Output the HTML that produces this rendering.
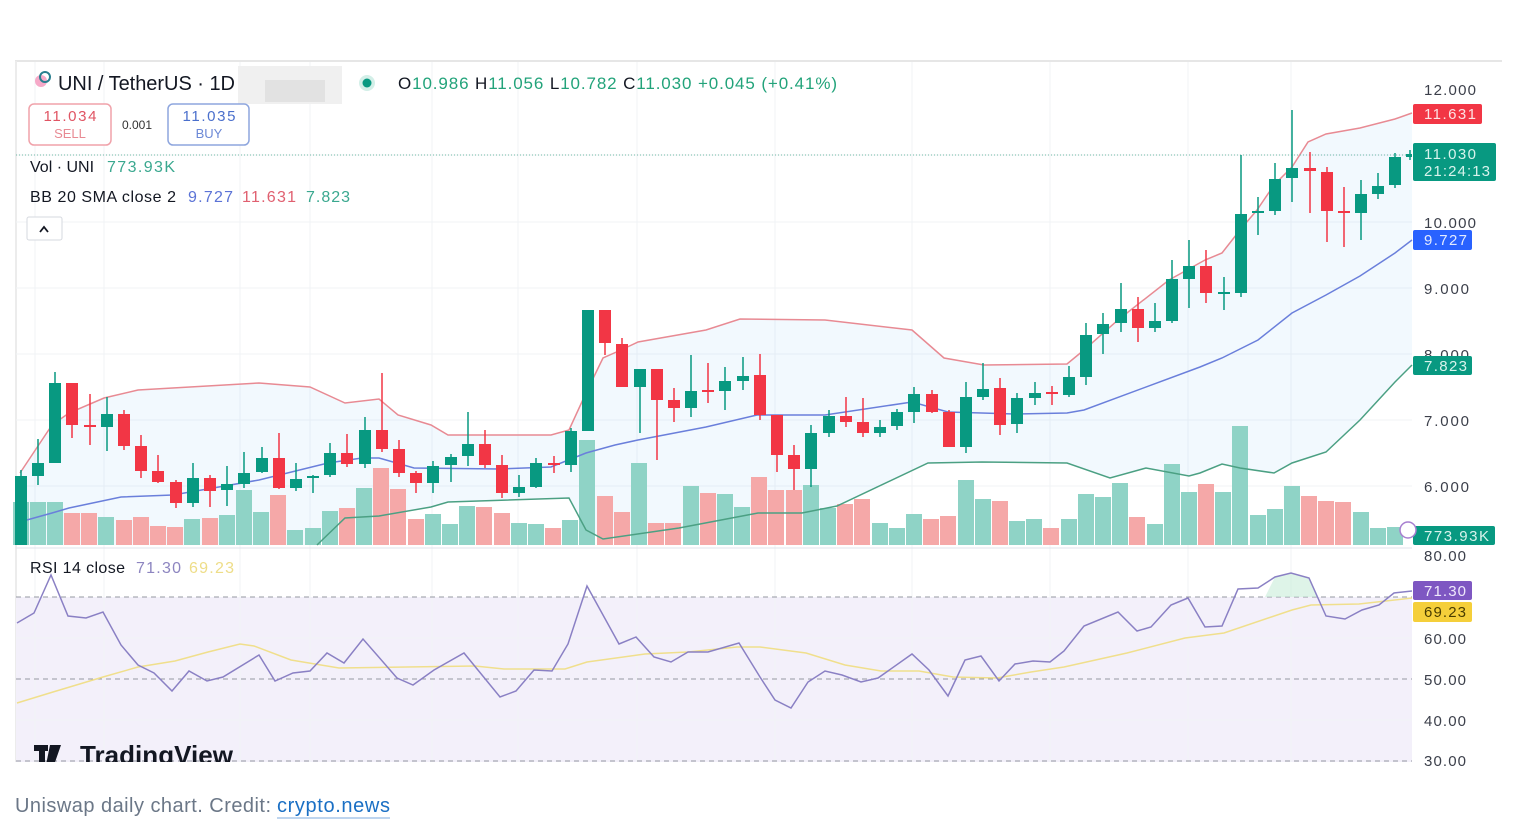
<!DOCTYPE html>
<html><head><meta charset="utf-8"><style>
html,body{margin:0;padding:0;background:#fff;}
svg{display:block;font-family:"Liberation Sans",sans-serif;}
</style></head><body>
<svg width="1518" height="836" viewBox="0 0 1518 836" xmlns="http://www.w3.org/2000/svg">
<rect x="0" y="0" width="1518" height="836" fill="#fff"/>
<rect x="15" y="60" width="1487" height="702" fill="#fff"/>
<line x1="15" y1="61" x2="1502" y2="61" stroke="#e6e6e6" stroke-width="2"/>
<line x1="16" y1="61" x2="16" y2="762" stroke="#ececec" stroke-width="2"/>
<rect x="16" y="597" width="1396" height="165" fill="#f3f0fa"/>
<g stroke="#f1f3f6" stroke-width="1">
<line x1="16" y1="155" x2="1412" y2="155"/><line x1="16" y1="222" x2="1412" y2="222"/><line x1="16" y1="288" x2="1412" y2="288"/>
<line x1="16" y1="354" x2="1412" y2="354"/><line x1="16" y1="420" x2="1412" y2="420"/><line x1="16" y1="486" x2="1412" y2="486"/>
<line x1="16" y1="638" x2="1412" y2="638"/><line x1="16" y1="720" x2="1412" y2="720"/>
<line x1="35" y1="62" x2="35" y2="762"/><line x1="104" y1="62" x2="104" y2="762"/><line x1="240" y1="62" x2="240" y2="762"/>
<line x1="310" y1="62" x2="310" y2="762"/><line x1="432" y1="62" x2="432" y2="762"/><line x1="518" y1="62" x2="518" y2="762"/>
<line x1="637" y1="62" x2="637" y2="762"/><line x1="775" y1="62" x2="775" y2="762"/><line x1="912" y1="62" x2="912" y2="762"/>
<line x1="1050" y1="62" x2="1050" y2="762"/><line x1="1188" y1="62" x2="1188" y2="762"/><line x1="1291" y1="62" x2="1291" y2="762"/>
</g>
<polygon fill="#2196f3" fill-opacity="0.06" points="20,473 52,425 69,413 104,398 138,390 190,387 259,383 310,387 345,403 379,399 398,415 431,425 448,435 551,435 569,430 586,393 603,358 621,350 638,342 706,330 740,319 825,320 912,330 944,358 984,365 1067,364 1084,350 1118,320 1169,280 1205,260 1222,253 1240,230 1257,210 1274,185 1292,167 1308,142 1326,134 1360,128 1395,119 1412,113 1412,365 1395,382 1360,420 1326,452 1292,463 1274,473 1240,468 1222,464 1200,473 1189,476 1146,468 1110,478 1067,463 982,462 928,463 837,506 802,513 758,513 679,528 600,538 586,530 569,498 448,502 431,507 379,516 345,518 317,545 20,545"/>
<g fill="#8fd3c6">
<rect x="13" y="502" width="16" height="43"/><rect x="30" y="502" width="16" height="43"/><rect x="47" y="502" width="16" height="43"/>
<rect x="98" y="517" width="16" height="28"/><rect x="184" y="519" width="16" height="26"/><rect x="219" y="515" width="16" height="30"/>
<rect x="236" y="490" width="16" height="55"/><rect x="253" y="512" width="16" height="33"/><rect x="287" y="530" width="16" height="15"/>
<rect x="305" y="528" width="16" height="17"/><rect x="322" y="511" width="16" height="34"/><rect x="356" y="488" width="16" height="57"/>
<rect x="425" y="514" width="16" height="31"/><rect x="442" y="524" width="16" height="21"/><rect x="459" y="506" width="16" height="39"/>
<rect x="511" y="523" width="16" height="22"/><rect x="528" y="524" width="16" height="21"/><rect x="562" y="520" width="16" height="25"/>
<rect x="579" y="440" width="16" height="105"/><rect x="631" y="463" width="16" height="82"/><rect x="683" y="486" width="16" height="59"/>
<rect x="717" y="494" width="16" height="51"/><rect x="734" y="507" width="16" height="38"/><rect x="803" y="485" width="16" height="60"/>
<rect x="820" y="508" width="16" height="37"/><rect x="872" y="523" width="16" height="22"/><rect x="889" y="528" width="16" height="17"/>
<rect x="906" y="514" width="16" height="31"/><rect x="958" y="480" width="16" height="65"/><rect x="975" y="499" width="16" height="46"/>
<rect x="1009" y="521" width="16" height="24"/><rect x="1026" y="519" width="16" height="26"/><rect x="1061" y="519" width="16" height="26"/>
<rect x="1078" y="494" width="16" height="51"/><rect x="1095" y="497" width="16" height="48"/><rect x="1112" y="483" width="16" height="62"/>
<rect x="1147" y="524" width="16" height="21"/><rect x="1164" y="464" width="16" height="81"/><rect x="1181" y="492" width="16" height="53"/>
<rect x="1215" y="492" width="16" height="53"/><rect x="1232" y="426" width="16" height="119"/><rect x="1250" y="515" width="16" height="30"/>
<rect x="1267" y="509" width="16" height="36"/><rect x="1284" y="486" width="16" height="59"/><rect x="1353" y="512" width="16" height="33"/>
<rect x="1370" y="528" width="16" height="17"/><rect x="1387" y="527" width="16" height="18"/>
</g>
<g fill="#f5a8a8">
<rect x="64" y="513" width="16" height="32"/><rect x="81" y="513" width="16" height="32"/><rect x="116" y="520" width="16" height="25"/>
<rect x="133" y="517" width="16" height="28"/><rect x="150" y="526" width="16" height="19"/><rect x="167" y="527" width="16" height="18"/>
<rect x="202" y="518" width="16" height="27"/><rect x="270" y="495" width="16" height="50"/><rect x="339" y="508" width="16" height="37"/>
<rect x="373" y="468" width="16" height="77"/><rect x="390" y="489" width="16" height="56"/><rect x="408" y="519" width="16" height="26"/>
<rect x="476" y="507" width="16" height="38"/><rect x="494" y="513" width="16" height="32"/><rect x="545" y="528" width="16" height="17"/>
<rect x="597" y="496" width="16" height="49"/><rect x="614" y="512" width="16" height="33"/><rect x="648" y="523" width="16" height="22"/>
<rect x="665" y="523" width="16" height="22"/><rect x="700" y="493" width="16" height="52"/><rect x="751" y="477" width="16" height="68"/>
<rect x="768" y="490" width="16" height="55"/><rect x="786" y="490" width="16" height="55"/><rect x="837" y="504" width="16" height="41"/>
<rect x="854" y="499" width="16" height="46"/><rect x="923" y="519" width="16" height="26"/><rect x="940" y="516" width="16" height="29"/>
<rect x="992" y="501" width="16" height="44"/><rect x="1043" y="528" width="16" height="17"/><rect x="1129" y="517" width="16" height="28"/>
<rect x="1198" y="484" width="16" height="61"/><rect x="1301" y="496" width="16" height="49"/><rect x="1318" y="501" width="16" height="44"/>
<rect x="1335" y="502" width="16" height="43"/>
</g>
<polyline fill="none" stroke="#e88a93" stroke-width="1.5" points="20,473 52,425 69,413 104,398 138,390 190,387 259,383 310,387 345,403 379,399 398,415 431,425 448,435 551,435 569,430 586,393 603,358 621,350 638,342 706,330 740,319 825,320 912,330 944,358 984,365 1067,364 1084,350 1118,320 1169,280 1205,260 1222,253 1240,230 1257,210 1274,185 1292,167 1308,142 1326,134 1360,128 1395,119 1412,113"/>
<polyline fill="none" stroke="#6a7fdb" stroke-width="1.5" points="16,523 52,513 69,508 121,497 173,495 259,480 328,463 362,458 379,458 414,468 500,469 551,467 586,453 615,445 638,440 706,427 757,415 825,415 912,402 948,412 1015,414 1067,413 1084,410 1200,367 1222,358 1258,340 1292,313 1326,295 1360,276 1395,253 1412,240"/>
<polyline fill="none" stroke="#4ba083" stroke-width="1.5" points="317,545 345,518 379,516 431,507 448,502 569,498 586,530 603,539 679,528 758,513 802,513 837,506 928,463 982,462 1067,463 1110,478 1146,468 1189,476 1200,473 1222,464 1240,468 1274,473 1292,463 1326,452 1360,420 1395,382 1412,365"/>
<line x1="16" y1="155" x2="1412" y2="155" stroke="#6fb8a6" stroke-width="1" stroke-dasharray="1,2"/>
<g stroke="#089981" stroke-width="1.5">
<path d="M21 470V545M38 439V485M55 372V463M107 397V451M193 463V507M227 466V506M244 452V488M262 447V473M296 463V491M313 475V493M330 443V477M365 417V468M433 461V493M451 454V482M468 412V466M519 475V497M536 458V488M571 428V472M588 310V431M640 369V433M691 355V417M725 367V410M743 357V390M811 425V487M829 410V437M880 420V437M897 409V430M914 387V423M966 382V453M983 363V400M1017 393V433M1035 382V405M1069 366V397M1086 323V385M1103 313V354M1121 283V332M1155 303V332M1172 260V323M1189 240V308M1224 277V310M1241 155V297M1258 197V235M1275 163V215M1292 110V202M1361 180V240M1378 173V199M1395 153V188M1410 150V160"/>
</g>
<g fill="#089981">
<rect x="15" y="476" width="12" height="69"/><rect x="32" y="463" width="12" height="13"/><rect x="49" y="383" width="12" height="80"/>
<rect x="101" y="414" width="12" height="13"/><rect x="187" y="478" width="12" height="25"/><rect x="221" y="484" width="12" height="6"/>
<rect x="238" y="473" width="12" height="11"/><rect x="256" y="458" width="12" height="14"/><rect x="290" y="479" width="12" height="9"/>
<rect x="307" y="476" width="12" height="2"/><rect x="324" y="453" width="12" height="22"/><rect x="359" y="430" width="12" height="34"/>
<rect x="427" y="466" width="12" height="17"/><rect x="445" y="457" width="12" height="8"/><rect x="462" y="444" width="12" height="12"/>
<rect x="513" y="487" width="12" height="6"/><rect x="530" y="463" width="12" height="24"/><rect x="565" y="431" width="12" height="34"/>
<rect x="582" y="310" width="12" height="121"/><rect x="634" y="369" width="12" height="18"/><rect x="685" y="391" width="12" height="17"/>
<rect x="719" y="381" width="12" height="10"/><rect x="737" y="376" width="12" height="5"/><rect x="805" y="433" width="12" height="36"/>
<rect x="823" y="416" width="12" height="17"/><rect x="874" y="427" width="12" height="6"/><rect x="891" y="412" width="12" height="14"/>
<rect x="908" y="394" width="12" height="18"/><rect x="960" y="397" width="12" height="50"/><rect x="977" y="389" width="12" height="8"/>
<rect x="1011" y="398" width="12" height="26"/><rect x="1029" y="393" width="12" height="5"/><rect x="1063" y="377" width="12" height="18"/>
<rect x="1080" y="335" width="12" height="42"/><rect x="1097" y="324" width="12" height="10"/><rect x="1115" y="309" width="12" height="14"/>
<rect x="1149" y="321" width="12" height="7"/><rect x="1166" y="279" width="12" height="42"/><rect x="1183" y="266" width="12" height="13"/>
<rect x="1218" y="292" width="12" height="2"/><rect x="1235" y="214" width="12" height="79"/><rect x="1252" y="211" width="12" height="2"/>
<rect x="1269" y="179" width="12" height="32"/><rect x="1286" y="168" width="12" height="10"/><rect x="1355" y="194" width="12" height="19"/>
<rect x="1372" y="186" width="12" height="8"/><rect x="1389" y="157" width="12" height="28"/><rect x="1406" y="154" width="6" height="3"/>
</g>
<g stroke="#f23645" stroke-width="1.5">
<path d="M72 383V438M90 394V445M124 410V450M141 435V478M158 455V483M176 480V508M210 475V507M279 433V489M347 434V467M382 373V452M399 440V477M416 471V493M485 430V468M502 455V498M554 456V473M605 310V355M622 338V387M657 369V460M674 388V422M708 363V403M760 354V420M777 415V472M794 445V490M846 397V427M863 398V437M932 390V413M949 410V447M1000 378V435M1052 386V405M1138 297V342M1206 250V303M1310 152V213M1327 167V242M1344 187V247"/>
</g>
<g fill="#f23645">
<rect x="66" y="383" width="12" height="42"/><rect x="84" y="425" width="12" height="2"/><rect x="118" y="414" width="12" height="32"/>
<rect x="135" y="446" width="12" height="25"/><rect x="152" y="471" width="12" height="11"/><rect x="170" y="482" width="12" height="21"/>
<rect x="204" y="478" width="12" height="13"/><rect x="273" y="458" width="12" height="30"/><rect x="341" y="453" width="12" height="11"/>
<rect x="376" y="430" width="12" height="19"/><rect x="393" y="449" width="12" height="24"/><rect x="410" y="473" width="12" height="10"/>
<rect x="479" y="444" width="12" height="21"/><rect x="496" y="465" width="12" height="28"/><rect x="548" y="463" width="12" height="2"/>
<rect x="599" y="310" width="12" height="33"/><rect x="616" y="344" width="12" height="43"/><rect x="651" y="369" width="12" height="31"/>
<rect x="668" y="400" width="12" height="8"/><rect x="702" y="390" width="12" height="2"/><rect x="754" y="375" width="12" height="40"/>
<rect x="771" y="415" width="12" height="40"/><rect x="788" y="455" width="12" height="14"/><rect x="840" y="416" width="12" height="6"/>
<rect x="857" y="422" width="12" height="11"/><rect x="926" y="394" width="12" height="18"/><rect x="943" y="412" width="12" height="35"/>
<rect x="994" y="388" width="12" height="37"/><rect x="1046" y="392" width="12" height="2"/><rect x="1132" y="309" width="12" height="19"/>
<rect x="1200" y="266" width="12" height="27"/><rect x="1304" y="168" width="12" height="3"/><rect x="1321" y="172" width="12" height="39"/>
<rect x="1338" y="211" width="12" height="2"/>
</g>
<line x1="16" y1="548" x2="1412" y2="548" stroke="#e0e3eb" stroke-width="1"/>
<g stroke="#9598a1" stroke-width="1" stroke-dasharray="5,4">
<line x1="16" y1="597" x2="1412" y2="597"/><line x1="16" y1="679" x2="1412" y2="679"/><line x1="16" y1="761" x2="1412" y2="761"/>
</g>
<polygon fill="#c8ecd9" fill-opacity="0.6" points="1265,597 1275,577 1291,573 1309,578 1318,597"/>
<polyline fill="none" stroke="#f0df8c" stroke-width="1.5" points="17,703 53,692 103,677 138,667 175,661 208,652 240,644 254,646 291,660 339,668 475,666 504,669 565,669 587,662 645,654 688,652 737,647 760,647 806,653 845,665 881,671 919,671 953,677 997,678 1031,672 1064,667 1127,653 1185,638 1224,633 1292,610 1311,605 1359,604 1412,598"/>
<polyline fill="none" stroke="#8a80c4" stroke-width="1.5" points="17,623 34,613 51,575 68,616 86,618 103,612 121,645 138,665 154,673 172,691 189,671 207,681 223,677 259,655 275,681 293,673 310,671 327,653 344,663 363,639 397,678 413,685 434,670 464,653 500,697 516,691 534,670 552,671 568,644 587,586 619,644 636,637 654,657 671,662 688,652 708,652 739,643 760,677 775,700 791,708 808,682 825,671 842,675 861,682 878,678 912,654 929,670 948,696 965,660 981,656 999,681 1015,664 1033,661 1050,662 1064,651 1084,626 1118,612 1137,631 1151,627 1171,605 1188,598 1205,627 1222,626 1238,589 1258,588 1275,577 1291,573 1309,578 1326,616 1345,619 1362,610 1379,605 1394,593 1412,591"/>
<rect x="1413" y="62" width="89" height="700" fill="#fff"/>
<g font-size="15" fill="#3b3f4a">
<text x="1424" y="95" textLength="52">12.000</text><text x="1424" y="228" textLength="52">10.000</text><text x="1424" y="294" textLength="45">9.000</text>
<text x="1424" y="360" textLength="45">8.000</text><text x="1424" y="426" textLength="45">7.000</text><text x="1424" y="492" textLength="45">6.000</text>
<text x="1424" y="561" textLength="42">80.00</text><text x="1424" y="644" textLength="42">60.00</text><text x="1424" y="685" textLength="42">50.00</text>
<text x="1424" y="726" textLength="42">40.00</text><text x="1424" y="766" textLength="42">30.00</text>
</g>
<rect x="1413" y="104" width="69" height="20" rx="2" fill="#f23645"/><text x="1424" y="119" font-size="15" fill="#fde2e4" textLength="52">11.631</text>
<rect x="1413" y="143" width="83" height="38" rx="2" fill="#089981"/><text x="1424" y="159" font-size="15" fill="#d8f3ec" textLength="52">11.030</text><text x="1424" y="176" font-size="15" fill="#d8f3ec" textLength="66">21:24:13</text>
<rect x="1413" y="230" width="59" height="20" rx="2" fill="#2962ff"/><text x="1424" y="245" font-size="15" fill="#e3eaff" textLength="43">9.727</text>
<rect x="1413" y="356" width="59" height="19" rx="2" fill="#089981"/><text x="1424" y="371" font-size="15" fill="#d8f3ec" textLength="43">7.823</text>
<rect x="1413" y="526" width="82" height="19" rx="2" fill="#089981"/><text x="1424" y="541" font-size="15" fill="#d8f3ec" textLength="65">773.93K</text>
<rect x="1413" y="581" width="59" height="19" rx="2" fill="#7e57c2"/><text x="1424" y="596" font-size="15" fill="#efe9fb" textLength="42">71.30</text>
<rect x="1413" y="602" width="59" height="20" rx="2" fill="#f5cf3a"/><text x="1424" y="617" font-size="15" fill="#4a3d00" textLength="42">69.23</text>
<circle cx="1408" cy="530" r="8" fill="#fff" stroke="#a77fd0" stroke-width="1.5"/>
<circle cx="41" cy="81" r="6" fill="#f6a9c8"/><circle cx="45" cy="77" r="5" fill="none" stroke="#2a7f8f" stroke-width="2"/>
<text x="58" y="90" font-size="20" fill="#131722" textLength="177">UNI / TetherUS · 1D</text>
<rect x="238" y="66" width="104" height="38" fill="#f0f0f0"/><rect x="265" y="80" width="60" height="22" fill="#e2e2e2"/>
<circle cx="367" cy="83" r="8" fill="#d3efe8"/><circle cx="367" cy="83" r="4.5" fill="#089981"/>
<text x="398" y="89" font-size="17" fill="#22a37a" textLength="439"><tspan fill="#131722">O</tspan>10.986 <tspan fill="#131722">H</tspan>11.056 <tspan fill="#131722">L</tspan>10.782 <tspan fill="#131722">C</tspan>11.030 +0.045 (+0.41%)</text>
<rect x="29" y="104" width="82" height="41" rx="5" fill="#fff" stroke="#f0a2aa" stroke-width="1.5"/>
<text x="70" y="121" font-size="15" fill="#e05463" text-anchor="middle" textLength="53">11.034</text><text x="70" y="138" font-size="13" fill="#e88a93" text-anchor="middle">SELL</text>
<text x="122" y="129" font-size="12" fill="#333">0.001</text>
<rect x="168" y="104" width="81" height="41" rx="5" fill="#fff" stroke="#8ea6de" stroke-width="1.5"/>
<text x="209" y="121" font-size="15" fill="#4a6fcc" text-anchor="middle" textLength="53">11.035</text><text x="209" y="138" font-size="13" fill="#6b88d6" text-anchor="middle">BUY</text>
<text x="30" y="172" font-size="16" fill="#131722">Vol · UNI</text><text x="107" y="172" font-size="16" fill="#3aa88f" textLength="68">773.93K</text>
<text x="30" y="202" font-size="16" fill="#131722" textLength="146">BB 20 SMA close 2</text>
<text x="188" y="202" font-size="16" fill="#5b73d6" textLength="45">9.727</text>
<text x="242" y="202" font-size="16" fill="#e06070" textLength="54">11.631</text>
<text x="306" y="202" font-size="16" fill="#3aa88f" textLength="44">7.823</text>
<rect x="27" y="217" width="35" height="23" rx="2" fill="#fff" stroke="#d6d9df"/>
<path d="M40 232L44 227L48 232" fill="none" stroke="#131722" stroke-width="1.8"/>
<text x="30" y="573" font-size="16" fill="#131722" textLength="95">RSI 14 close</text>
<text x="136" y="573" font-size="16" fill="#8d85c0" textLength="45">71.30</text>
<text x="189" y="573" font-size="16" fill="#eedd88" textLength="45">69.23</text>
<svg x="16" y="735" width="400" height="27">
<rect x="18" y="10" width="14" height="6" fill="#131722"/><rect x="23" y="10" width="6" height="20" fill="#131722"/><path d="M34 10L45 10L38 30L30 30Z" fill="#131722"/>
<text x="64" y="29" font-size="26" font-weight="bold" fill="#131722" textLength="153">TradingView</text>
</svg>
<text x="15" y="812" font-size="20" fill="#6b7787" textLength="256">Uniswap daily chart. Credit:</text>
<text x="277" y="812" font-size="20" fill="#1a6fc4" textLength="113">crypto.news</text>
<line x1="277" y1="818" x2="390" y2="818" stroke="#a9c7ea" stroke-width="1.5"/>
</svg>
</body></html>
